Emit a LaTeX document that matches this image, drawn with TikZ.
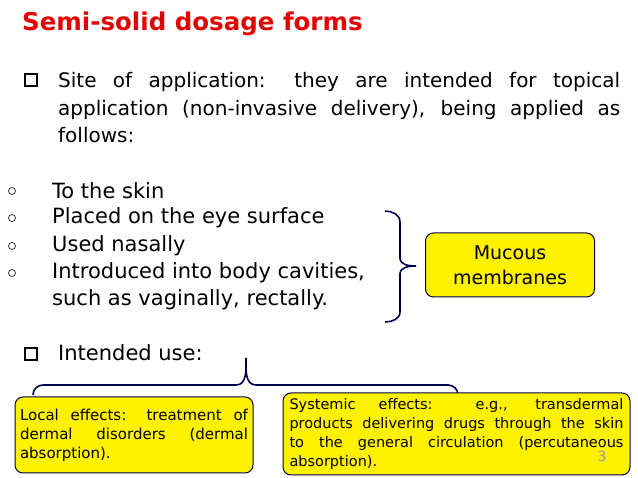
\documentclass[tikz,border=0pt]{standalone}
\usepackage{fontspec}
\setmainfont{DejaVu Sans}
\begin{document}
\begin{tikzpicture}[x=1pt,y=-1pt,
  ybox/.style={draw=black!70!blue,fill=yellow,rounded corners=8pt,line width=1pt},
  brace/.style={draw=blue!30!black,line width=1.6pt},
  chk/.style={draw,line width=1.2pt,minimum size=12pt,inner sep=0pt},
  body/.style={font=\fontsize{20}{27.5}\selectfont,inner sep=0pt,anchor=north west},
  lst/.style={font=\fontsize{21}{27.5}\selectfont,inner sep=0pt,anchor=west}]
\useasboundingbox[fill=white] (0,0) rectangle (638,478);
\node[anchor=west,inner sep=0pt,text=red!90!black,font=\fontsize{24.5}{28}\selectfont\bfseries] (title) at (22,24) {Semi-solid dosage forms};
\node[chk] (c1) at (31,80) {};
\node[body,text width=562pt,align=justify,anchor=west] (site) at (58,108) {Site of application: they are intended for topical\linebreak application (non-invasive delivery), being applied as\linebreak follows:};
\foreach \y/\t [count=\i] in {191/To the skin,218/Placed on the eye surface,246/Used nasally,273/{Introduced into body cavities,}}{
  \node[draw,circle,inner sep=0pt,minimum size=7pt,line width=0.6pt] (o\i) at (12,\y) {};
  \node[lst] (l\i) at (52,\y) {\t};
}
\node[lst] (l5) at (52,300) {such as vaginally, rectally.};
\coordinate (bt) at (385,211);
\coordinate (bb) at (385,322);
\coordinate (bm) at (416,266);
\draw[brace] (bt) to[out=0,in=90] (400,222) -- (400,258) to[out=-90,in=180] (bm);
\draw[brace] (bb) to[out=0,in=-90] (400,312) -- (400,274) to[out=90,in=180] (bm);
\node[ybox,minimum width=169pt,minimum height=64pt,align=center,font=\fontsize{19}{25}\selectfont] (muc) at (510,265) {Mucous\\membranes};
\node[chk] (c2) at (31,354) {};
\node[lst] (iu) at (58,353) {Intended use:};
\coordinate (hl) at (33,395);
\coordinate (hr) at (458,395);
\coordinate (tip) at (246,358);
\draw[brace] (hl) to[out=90,in=180] (43,385) -- (236,385) to[out=0,in=-90] (tip);
\draw[brace] (hr) to[out=90,in=0] (448,385) -- (256,385) to[out=180,in=-90] (tip);
\node[ybox,minimum width=238pt,minimum height=76pt] (lb) at (134,435) {};
\node[inner sep=0pt,text width=228pt,align=justify,font=\fontsize{15}{19}\selectfont] at (lb) {Local effects: treatment of\linebreak dermal disorders (dermal\linebreak absorption).};
\node[ybox,minimum width=347pt,minimum height=82pt] (rb) at (456.5,434) {};
\node[inner sep=0pt,text width=334pt,align=justify,font=\fontsize{14.5}{19}\selectfont] at (rb) {Systemic effects: e.g., transdermal\linebreak products delivering drugs through the skin\linebreak to the general circulation (percutaneous\linebreak absorption).};
\node[text=black!40,font=\fontsize{14}{14}\selectfont] (pn) at (602,456) {3};
\end{tikzpicture}
\end{document}
